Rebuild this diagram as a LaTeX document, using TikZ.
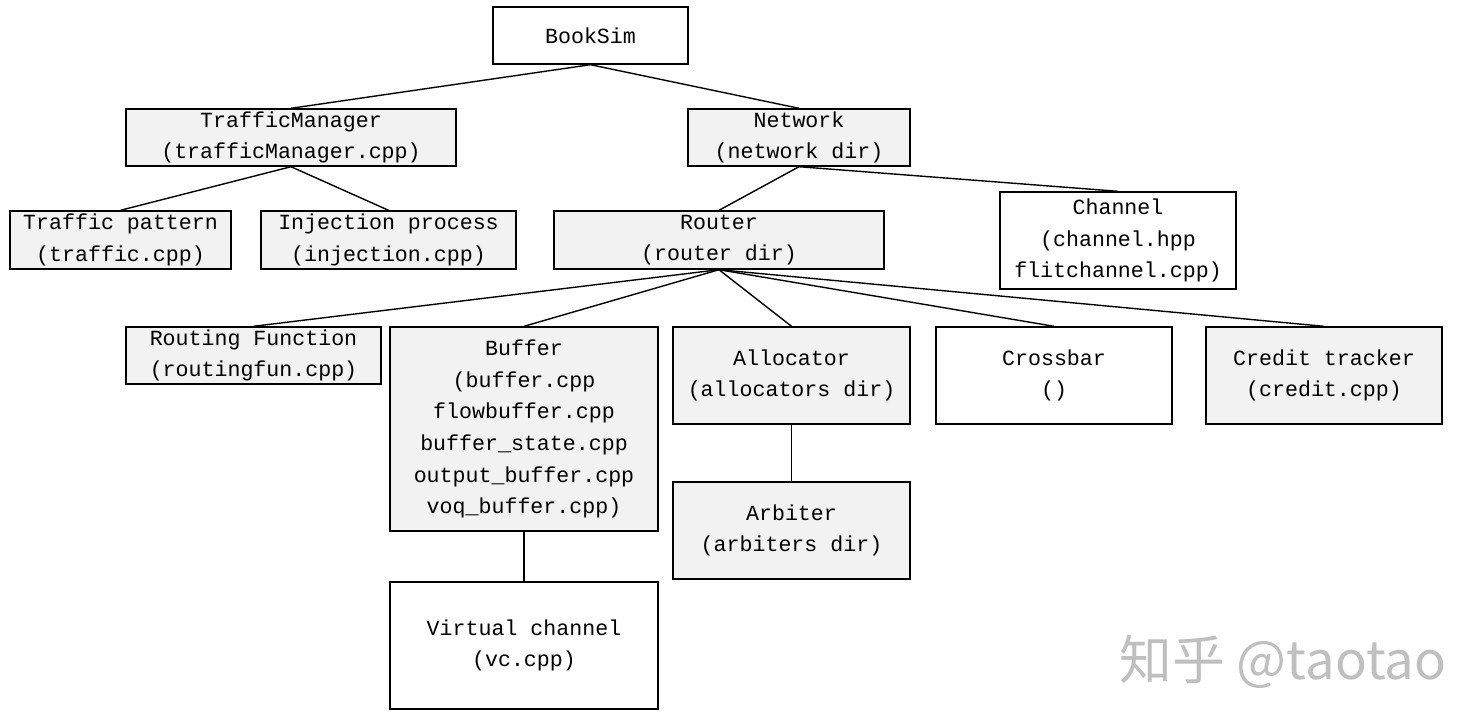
\documentclass[tikz,border=0pt]{standalone}
\usepackage{fontspec}
\setmainfont{Liberation Mono}
\newfontfamily\cjk{Noto Sans CJK SC}
\definecolor{boxgray}{RGB}{242,242,242}
\tikzset{
  box/.style={draw, thick, align=center, inner sep=0pt, font=\fontsize{12.3}{18}\selectfont},
  grey/.style={box, fill=boxgray},
  link/.style={thick}
}
\begin{document}
\begin{tikzpicture}[x=0.02cm, y=-0.02cm]
    \useasboundingbox (0,0) rectangle (1458,721);

    % first levels
    \node[box, minimum width=3.9cm, minimum height=1.14cm] (booksim) at (590.5,35.5) {BookSim};
    \node[grey, minimum width=6.6cm, minimum height=1.14cm] (tm) at (291,137.5) {TrafficManager\\(trafficManager.cpp)};
    \node[grey, minimum width=4.44cm, minimum height=1.14cm] (net) at (799,137.5) {Network\\(network dir)};

    \node[grey, minimum width=4.42cm, minimum height=1.16cm] (pattern) at (120.5,240) {Traffic pattern\\(traffic.cpp)};
    \node[grey, minimum width=5.1cm, minimum height=1.16cm] (inject) at (388.5,240) {Injection process\\(injection.cpp)};
    \node[grey, minimum width=6.6cm, minimum height=1.16cm] (router) at (719,240) {Router\\(router dir)};
    \node[box, minimum width=4.72cm, minimum height=1.94cm] (channel) at (1118,240.5) {Channel\\(channel.hpp\\flitchannel.cpp)};

    % router parts
    \node[grey, minimum width=5.1cm, minimum height=1.14cm] (routing) at (253.5,355.5) {Routing Function\\(routingfun.cpp)};
    \node[grey, minimum width=5.36cm, minimum height=4.08cm] (buffer) at (524,429) {Buffer\\(buffer.cpp\\flowbuffer.cpp\\buffer\_state.cpp\\output\_buffer.cpp\\voq\_buffer.cpp)};
    \node[grey, minimum width=4.74cm, minimum height=1.94cm] (alloc) at (791.5,375.5) {Allocator\\(allocators dir)};
    \node[box, minimum width=4.72cm, minimum height=1.94cm] (xbar) at (1054,375.5) {Crossbar\\()};
    \node[grey, minimum width=4.72cm, minimum height=1.94cm] (credit) at (1324,375.5) {Credit tracker\\(credit.cpp)};

    \node[grey, minimum width=4.74cm, minimum height=1.94cm] (arbiter) at (791.5,530.5) {Arbiter\\(arbiters dir)};
    \node[box, minimum width=5.36cm, minimum height=2.54cm] (vc) at (524,645.5) {Virtual channel\\(vc.cpp)};

    % links
    \foreach \a/\b in {booksim/tm, booksim/net, tm/pattern, tm/inject, net/router, net/channel,
                       router/routing, router/buffer, router/alloc, router/xbar, router/credit,
                       alloc/arbiter, buffer/vc}
        \draw[link] (\a.south) -- (\b.north);

    \node[text=black!25, font=\cjk\fontsize{30}{30}\selectfont] (mark) at (1283,662) {知乎 @taotao};
\end{tikzpicture}
\end{document}
